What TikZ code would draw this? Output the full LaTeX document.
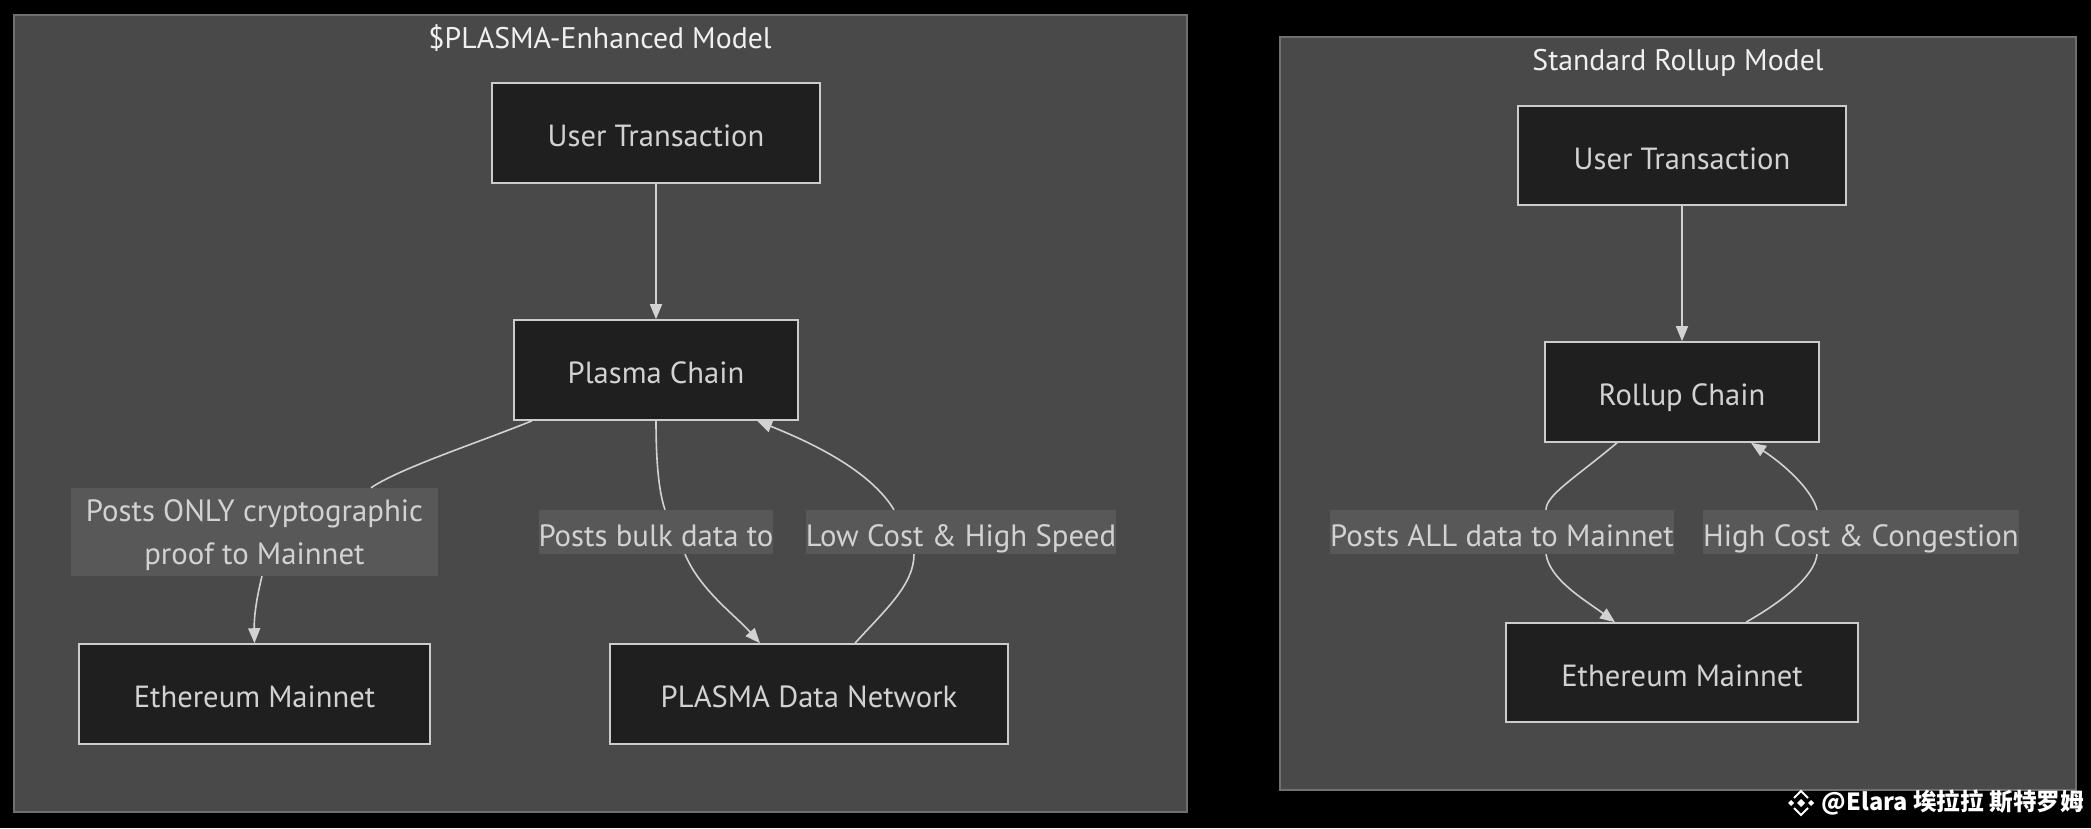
\documentclass[tikz,border=0pt]{standalone}
\usepackage{fontspec}
\setmainfont{PT Sans}
\newfontfamily\cjkfont{Noto Sans CJK SC}
\usetikzlibrary{arrows.meta,calc}
\definecolor{clusterfill}{RGB}{72,73,72}
\definecolor{clusterdraw}{RGB}{112,112,112}
\definecolor{nodefill}{RGB}{31,31,31}
\definecolor{nodedraw}{RGB}{204,204,204}
\definecolor{textc}{RGB}{210,210,210}
\definecolor{labelfill}{RGB}{88,88,88}
\definecolor{titlec}{RGB}{240,240,240}
\begin{document}
\begin{tikzpicture}[x=1pt,y=-1pt,
  box/.style={draw=nodedraw, fill=nodefill, line width=1.6pt, text=textc, inner sep=0pt, text height=27pt, text depth=0pt, font=\fontsize{30.6}{36}\selectfont},
  elabel/.style={fill=labelfill, text=textc, inner sep=0pt, align=center, font=\fontsize{30.8}{43}\selectfont},
  onel/.style={elabel, text height=29.5pt, text depth=0pt},
  cluster/.style={draw=clusterdraw, fill=clusterfill, line width=1.5pt},
  ctitle/.style={text=titlec, inner sep=0pt, font=\fontsize{29.8}{36}\selectfont},
  edge/.style={draw=textc, line width=1.6pt},
  arr/.style={edge, -{Triangle[length=15pt,width=12pt]}}
]
\fill[black] (0,0) rectangle (2091,828);
\useasboundingbox (0,0) rectangle (2091,828);

% clusters
\draw[cluster] (14,15) rectangle (1187,812);
\node[ctitle] (t1) at (600,38) {\$PLASMA-Enhanced Model};
\draw[cluster] (1280,37) rectangle (2076,790);
\node[ctitle] (t2) at (1678,62.5) {Standard Rollup Model};

% left nodes
\node[box, minimum width=328pt, minimum height=100pt] (ut1) at (656,133) {User Transaction};
\node[box, minimum width=284pt, minimum height=100pt] (pc) at (656,370) {Plasma Chain};
\node[box, minimum width=351pt, minimum height=100pt] (em1) at (254.5,694) {Ethereum Mainnet};
\node[box, minimum width=398pt, minimum height=100pt] (pdn) at (809,694) {PLASMA Data Network};

% right nodes
\node[box, minimum width=328pt, minimum height=99pt] (ut2) at (1682,155.5) {User Transaction};
\node[box, minimum width=274pt, minimum height=100pt] (rc) at (1682,392) {Rollup Chain};
\node[box, minimum width=352pt, minimum height=99pt] (em2) at (1682,672.5) {Ethereum Mainnet};

% labels
\node[elabel, text depth=-10pt, minimum width=367pt, minimum height=88pt] (l1) at (254.5,532) {Posts ONLY cryptographic\\proof to Mainnet};
\node[onel, minimum width=234pt, minimum height=44pt] (l2) at (656,532) {Posts bulk data to};
\node[onel, minimum width=302pt, minimum height=44pt] (l3) at (961,532) {Low Cost \& High Speed};
\node[onel, minimum width=338pt, minimum height=44pt] (l4) at (1502,532) {Posts ALL data to Mainnet};
\node[onel, minimum width=306pt, minimum height=44pt] (l5) at (1861,532) {High Cost \& Congestion};

% left edges
\draw[arr] (ut1.south) -- (pc.north);
\draw[edge] (pc.south -| 532,0) .. controls (480,442) and (400,468) .. (l1.north -| 371,0);
\draw[arr] (l1.south -| 262,0) .. controls (256,600) and (254,618) .. (em1.north);
\draw[edge] (pc.south) .. controls (656,470) and (660,495) .. (l2.north -| 665,0);
\draw[arr] (l2.south -| 685,0) .. controls (700,590) and (735,615) .. (pdn.north -| 760,0);
\draw[edge] (pdn.north -| 855,0) .. controls (885,610) and (914,585) .. (l3.south -| 914,0);
\draw[arr] (l3.north -| 894,0) .. controls (870,470) and (810,442) .. (pc.south -| 757,0);

% right edges
\draw[arr] (ut2.south) -- (rc.north);
\draw[edge] (rc.south -| 1617,0) .. controls (1575,478) and (1546,495) .. (l4.north -| 1546,0);
\draw[arr] (l4.south -| 1546,0) .. controls (1550,580) and (1585,600) .. (em2.north -| 1615,0);
\draw[edge] (em2.north -| 1746,0) .. controls (1785,600) and (1815,575) .. (l5.south -| 1817,0);
\draw[arr] (l5.north -| 1817,0) .. controls (1812,490) and (1785,465) .. (rc.south -| 1751,0);

% watermark
\node[text=white, inner sep=0pt, anchor=east, font=\cjkfont\bfseries\fontsize{23.6}{28}\selectfont] (wm) at (2084,803) {@Elara 埃拉拉 斯特罗姆};
\coordinate (logo) at (1801,803);
\begin{scope}[shift={(logo)}]
  \fill[white] (0,-4) -- (4,0) -- (0,4) -- (-4,0) -- cycle;
  \fill[white] (-10,-3) -- (-7,0) -- (-10,3) -- (-13,0) -- cycle;
  \fill[white] (10,-3) -- (13,0) -- (10,3) -- (7,0) -- cycle;
  \draw[white, line width=2pt] (-7,-5) -- (0,-12) -- (7,-5);
  \draw[white, line width=2pt] (-7,5) -- (0,12) -- (7,5);
\end{scope}
\end{tikzpicture}
\end{document}
